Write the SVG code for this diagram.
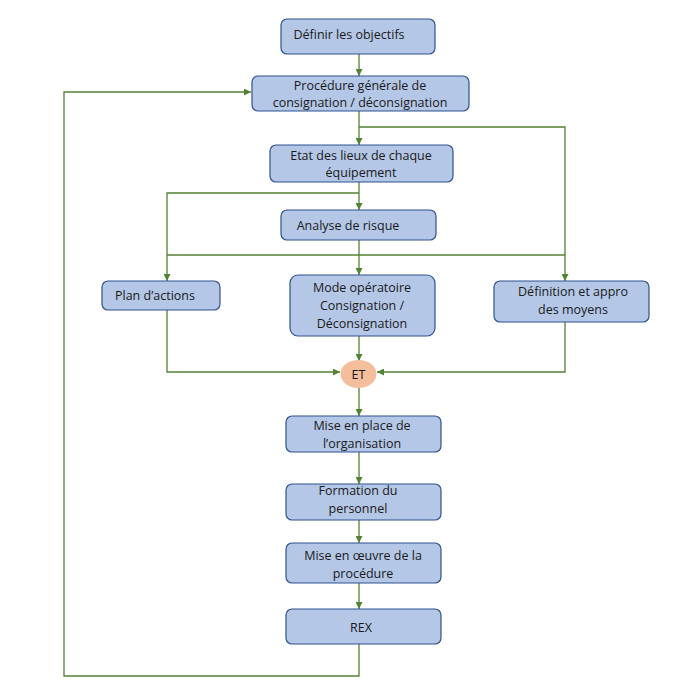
<svg xmlns="http://www.w3.org/2000/svg" width="679" height="699" viewBox="0 0 679 699">
<style>
.box{fill:#B4C7E7;stroke:#2F528F;stroke-width:1.2}
.et{fill:#F4BE9C;stroke:none}
.t{font-family:"Open Sans","Noto Sans",sans-serif;font-size:12.5px;fill:#1a1a1a;text-anchor:middle;dominant-baseline:central}
.c{fill:none;stroke:#548235;stroke-width:1.3}
</style>
<defs>
<marker id="ah" viewBox="0 0 10 10" refX="10" refY="5" markerWidth="7" markerHeight="7" markerUnits="userSpaceOnUse" orient="auto">
<path d="M0,0 L10,5 L0,10 Z" fill="#548235"/>
</marker>
</defs>
<rect width="679" height="699" fill="#ffffff"/>
<g id="connectors">
<path class="c" d="M359,54 V76" marker-end="url(#ah)"/>
<path class="c" d="M359,111 V145" marker-end="url(#ah)"/>
<path class="c" d="M359,127 H565 V281" marker-end="url(#ah)"/>
<path class="c" d="M359,182 V210" marker-end="url(#ah)"/>
<path class="c" d="M359,193 H167 V281" marker-end="url(#ah)"/>
<path class="c" d="M167,255 H565"/>
<path class="c" d="M359,240 V275" marker-end="url(#ah)"/>
<path class="c" d="M167,310 V372 H340" marker-end="url(#ah)"/>
<path class="c" d="M359,336 V361" marker-end="url(#ah)"/>
<path class="c" d="M565,322 V372 H377" marker-end="url(#ah)"/>
<path class="c" d="M359,388 V416" marker-end="url(#ah)"/>
<path class="c" d="M359,452 V484" marker-end="url(#ah)"/>
<path class="c" d="M359,520 V543" marker-end="url(#ah)"/>
<path class="c" d="M359,583 V609" marker-end="url(#ah)"/>
<path class="c" d="M359,644 V676 H64 V92 H251" marker-end="url(#ah)"/>
</g>
<g id="n1"><rect class="box" x="281" y="19" width="154" height="35" rx="6"/><text class="t" x="349" y="34">Définir les objectifs</text></g>
<g id="n2"><rect class="box" x="252" y="76" width="217" height="35" rx="6"/><text class="t" x="360" y="85">Procédure générale de</text><text class="t" x="360" y="102">consignation / déconsignation</text></g>
<g id="n3"><rect class="box" x="270" y="145" width="183" height="37" rx="6"/><text class="t" x="361" y="155">Etat des lieux de chaque</text><text class="t" x="361" y="172">équipement</text></g>
<g id="n4"><rect class="box" x="281" y="210" width="155" height="30" rx="6"/><text class="t" x="348" y="225">Analyse de risque</text></g>
<g id="n5"><rect class="box" x="102" y="281" width="118" height="29" rx="6"/><text class="t" x="155" y="295">Plan d’actions</text></g>
<g id="n6"><rect class="box" x="290" y="275" width="145" height="61" rx="8"/><text class="t" x="362" y="287">Mode opératoire</text><text class="t" x="362" y="305">Consignation /</text><text class="t" x="362" y="323">Déconsignation</text></g>
<g id="n7"><rect class="box" x="494" y="281" width="155" height="41" rx="6"/><text class="t" x="573" y="291">Définition et appro</text><text class="t" x="573" y="309">des moyens</text></g>
<g id="n8"><ellipse class="et" cx="358.5" cy="374" rx="18" ry="14"/><text class="t" x="358.5" y="374">ET</text></g>
<g id="n9"><rect class="box" x="286" y="416" width="155" height="36" rx="6"/><text class="t" x="362" y="425">Mise en place de</text><text class="t" x="362" y="443">l’organisation</text></g>
<g id="n10"><rect class="box" x="286" y="484" width="155" height="36" rx="6"/><text class="t" x="358" y="490">Formation du</text><text class="t" x="358" y="508">personnel</text></g>
<g id="n11"><rect class="box" x="286" y="543" width="155" height="40" rx="6"/><text class="t" x="363" y="555">Mise en œuvre de la</text><text class="t" x="363" y="573">procédure</text></g>
<g id="n12"><rect class="box" x="286" y="609" width="155" height="35" rx="6"/><text class="t" x="361" y="627">REX</text></g>
</svg>
